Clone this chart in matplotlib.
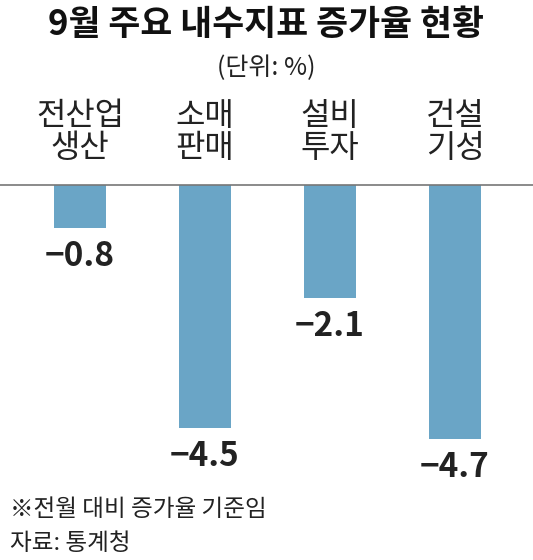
import matplotlib.pyplot as plt

plt.rcParams['font.family'] = ['Noto Sans CJK KR', 'DejaVu Sans']

categories = ["전산업\n생산", "소매\n판매", "설비\n투자", "건설\n기성"]
values = [-0.8, -4.5, -2.1, -4.7]
labels = ["\u22120.8", "\u22124.5", "\u22122.1", "\u22124.7"]

W, H = 533, 560
fig = plt.figure(figsize=(W / 100, H / 100), dpi=100)
ax = fig.add_axes([0, 0, 1, 1])
ppu = 54.0
base = 185
ax.set_ylim(-(H - base) / ppu, base / ppu)
ax.set_xlim(-80 / 125, (W - 80) / 125)
ax.axis('off')

color = "#6aa5c6"
x = range(len(values))
ax.bar(x, values, width=0.416, color=color, zorder=2)
ax.axhline(0, color="#777777", lw=1.2, zorder=3)

for i, (v, lab, cat) in enumerate(zip(values, labels, categories)):
    ax.text(i, v - 0.22, lab, ha='center', va='top', fontsize=24,
            fontweight='bold', color='#222222')
    ax.text(i, 0.38, cat, ha='center', va='bottom', fontsize=23,
            color='#222222', linespacing=1.0)

fig.text(0.5, 1 - 24 / H, "9월 주요 내수지표 증가율 현황", ha='center', va='center',
         fontsize=25, fontweight='bold', color='#111111')
fig.text(0.5, 1 - 68 / H, "(단위: %)", ha='center', va='center',
         fontsize=18, color='#222222')
fig.text(10 / W, 1 - 510 / H, "※전월 대비 증가율 기준임", ha='left', va='center',
         fontsize=17, color='#222222')
fig.text(10 / W, 1 - 544 / H, "자료: 통계청", ha='left', va='center',
         fontsize=17, color='#222222')

fig.savefig("out.png", dpi=100, facecolor='white')
